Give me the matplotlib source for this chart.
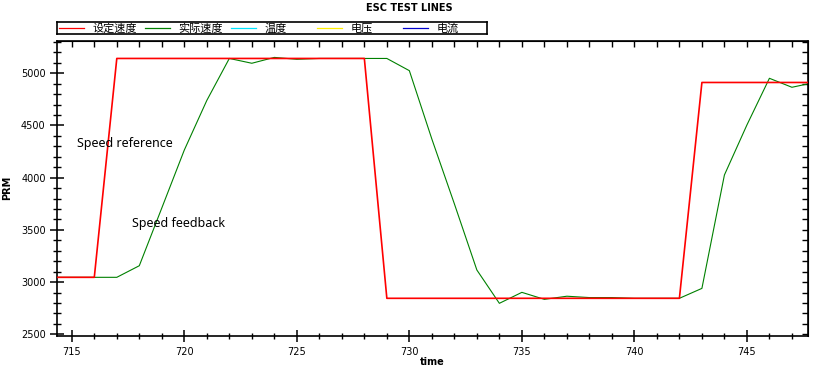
import matplotlib
matplotlib.use("Agg")
import matplotlib.pyplot as plt
from matplotlib.ticker import MultipleLocator

plt.rcParams['font.family'] = ['DejaVu Sans']

# 设定速度 (speed reference)
ref_t = [714.33, 716, 717, 728, 729, 742, 743, 747.7]
ref_v = [3046, 3046, 5142, 5142, 2845, 2845, 4912, 4912]

# 实际速度 (speed feedback)
fb_t = [714.33, 715, 716, 717, 718, 719, 720, 721, 722, 723, 724, 725, 726,
        727, 728, 729, 730, 731, 732, 733, 734, 735, 736, 737, 738, 739,
        740, 741, 742, 743, 744, 745, 746, 747, 747.7]
fb_v = [3046, 3046, 3046, 3046, 3157, 3710, 4265, 4740, 5142, 5096, 5152,
        5134, 5142, 5142, 5142, 5142, 5025, 4370, 3750, 3116, 2797, 2902,
        2835, 2865, 2852, 2852, 2845, 2845, 2845, 2940, 4026, 4505, 4952,
        4866, 4898]

legend_labels = ['设定速度', '实际速度', '温度', '电压', '电流']
legend_colors = ['#ff0000', '#008000', '#00e5ff', '#ffee00', '#0000cc']

fig = plt.figure(figsize=(8.16, 3.68), dpi=100)
ax = fig.add_axes([0.0695, 0.0878, 0.9203, 0.8016])

ax.plot(fb_t, fb_v, color='#008000', linewidth=0.8, zorder=2)
ax.plot(ref_t, ref_v, color='#ff0000', linewidth=1.2, zorder=3)

ax.set_xlim(714.33, 747.7)
ax.set_ylim(2487, 5312)

ax.xaxis.set_major_locator(MultipleLocator(5))
ax.xaxis.set_minor_locator(MultipleLocator(1))
ax.yaxis.set_major_locator(MultipleLocator(500))
ax.yaxis.set_minor_locator(MultipleLocator(100))

ax.tick_params(axis='x', which='major', direction='inout', length=9, width=1.1, labelsize=7, pad=4)
ax.tick_params(axis='x', which='minor', direction='inout', length=4, width=1.0)
ax.tick_params(axis='y', which='major', direction='inout', length=10, width=1.1, labelsize=7, pad=3)
ax.tick_params(axis='y', which='minor', direction='inout', length=6, width=1.0)

for s in ax.spines.values():
    s.set_linewidth(1.2)

# top and right ticks pointing inward
top = ax.secondary_xaxis('top')
top.xaxis.set_major_locator(MultipleLocator(5))
top.xaxis.set_minor_locator(MultipleLocator(1))
top.tick_params(which='both', direction='in', length=4, width=1.0, labeltop=False)
right = ax.secondary_yaxis('right')
right.yaxis.set_major_locator(MultipleLocator(500))
right.yaxis.set_minor_locator(MultipleLocator(100))
right.tick_params(which='both', direction='in', length=4, width=1.0, labelright=False)

ax.set_ylabel('PRM', fontsize=7, fontweight='bold', labelpad=6)
ax.set_xlabel('time', fontsize=7, fontweight='bold', labelpad=0)

ax.text(715.23, 4332, 'Speed reference', fontsize=9, family='Noto Sans', va='center', ha='left')
ax.text(717.68, 3557, 'Speed feedback', fontsize=9, family='Noto Sans', va='center', ha='left')

fig.text(0.502, 0.978, 'ESC TEST LINES', fontsize=7, fontweight='bold', ha='center', va='center')

# legend box
lax = fig.add_axes([0.0695, 0.9068, 0.527, 0.0342])
lax.set_xlim(0, 430)
lax.set_ylim(0, 1)
lax.set_xticks([])
lax.set_yticks([])
for s in lax.spines.values():
    s.set_linewidth(1.2)
for i, (lab, col) in enumerate(zip(legend_labels, legend_colors)):
    x0 = 2.5 + 86 * i
    lax.plot([x0, x0 + 25], [0.5, 0.5], color=col, linewidth=0.9)
    lax.text(x0 + 33, 0.45, lab, fontsize=8, va='center', ha='left',
             family=['Noto Sans CJK SC', 'DejaVu Sans'])

fig.savefig('out.png', dpi=100)
